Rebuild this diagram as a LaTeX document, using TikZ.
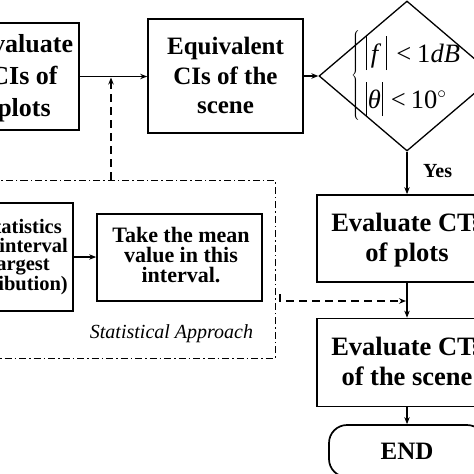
\documentclass[tikz,border=0pt]{standalone}
\usepackage{fontspec}
\setmainfont{Liberation Serif}
\usetikzlibrary{arrows.meta,shapes.geometric}
\newcommand{\vbarr}{\rule[-8pt]{0.9pt}{34pt}}
\begin{document}
\begin{tikzpicture}[x=1pt,y=-1pt,
  box/.style={draw,line width=1.7pt,inner sep=0pt},
  txt/.style={inner sep=0pt,align=center},
  arr/.style={-{Stealth[length=7pt,width=5.5pt]},line width=1.1pt},
  darr/.style={-{Stealth[length=7pt,width=5.5pt]},line width=1.1pt,dash pattern=on 8pt off 5pt},
  dashdotbox/.style={draw,line width=1pt,dash pattern=on 7pt off 3pt on 1.5pt off 3pt,inner sep=0pt}]
\useasboundingbox (0,0) rectangle (474,474);
\clip (0,0) rectangle (474,474);
\fill[white] (0,0) rectangle (474,474);
% main column
\node[box,minimum width=110pt,minimum height=107pt] (b1) at (24,76.5) {};
\node[txt,font=\bfseries\fontsize{26}{32}\selectfont] (t1) at (24,78.7) {Evaluate\\CIs of\\plots};
\node[box,minimum width=155pt,minimum height=114pt] (b2) at (225.5,76) {};
\node[txt,font=\bfseries\fontsize{25}{29.5}\selectfont] (t2) at (225.5,75.5) {Equivalent\\CIs of the\\scene};
\node[draw,shape=diamond,line width=1.3pt,minimum width=176pt,minimum height=150pt,inner sep=0pt] (dec) at (407,76) {};
\node[inner sep=0pt,anchor=west] (cond) at (351,75.8) {$\left\{\vcenter{\hbox{\fontsize{26.5}{46}\selectfont\begin{tabular}{@{}l@{}}\hspace{6pt}\vbarr\hspace{4pt}\textit{f}\hspace{5pt}\vbarr\hspace{9pt}<\hspace{6pt}1\textit{dB}\\
\hspace{6pt}\vbarr\hspace{1pt}\textit{θ}\hspace{1pt}\vbarr\hspace{8pt}<\hspace{5pt}10$^{\circ}$\end{tabular}}}\right.$};
\node[box,minimum width=180pt,minimum height=87pt] (b3) at (407,238.5) {};
\node[txt,font=\bfseries\fontsize{26.5}{30}\selectfont] (t3) at (407,240.6) {Evaluate CTs\\of plots};
\node[box,minimum width=180pt,minimum height=88pt] (b4) at (407,362.5) {};
\node[txt,font=\bfseries\fontsize{26.5}{30}\selectfont] (t4) at (407,361.2) {Evaluate CTs\\of the scene};
\node[box,font=\bfseries\fontsize{25}{29}\selectfont,minimum width=156pt,minimum height=52pt,rounded corners=18pt] (end) at (407,451) {END};
\node[anchor=base west,inner sep=0pt,font=\bfseries\fontsize{20}{24}\selectfont] (yes) at (423,177) {Yes};
% statistical approach
\node[dashdotbox,minimum width=285pt,minimum height=178pt] (stat) at (132.5,269) {};
\node[box,minimum width=133pt,minimum height=108pt] (bA) at (6.5,257) {};
\node[txt,anchor=east,align=right,font=\bfseries\fontsize{20.5}{18}\selectfont] (tA) at (68,256.8) {(Statistics\rule{6pt}{0pt}\\the interval\\of largest\rule{18pt}{0pt}\\distribution)};
\node[box,minimum width=165pt,minimum height=87pt] (bB) at (179.5,257.5) {};
\node[txt,font=\bfseries\fontsize{22}{20}\selectfont] (tB) at (181,255.3) {Take the mean\\value in this\\interval.};
\node[anchor=base,inner sep=0pt,font=\itshape\fontsize{20}{24}\selectfont] (lab) at (171.5,338) {Statistical Approach};
% connectors
\draw[arr] (b1.east) -- (b1.east -| b2.west);
\draw[arr] (b2.east) -- (dec.west);
\draw[arr] (dec.south) -- (b3.north);
\draw[arr] (b3.south) -- (b4.north);
\draw[arr] (b4.south) -- (end.north);
\draw[arr] (bA.east) -- (bA.east -| bB.west);
\coordinate (m) at (111,77.5);
\draw[darr] (stat.north -| m) -- (m);
\coordinate (s) at (280,294);
\coordinate (j) at (406,301);
\draw[darr] (s) |- (j);
\end{tikzpicture}
\end{document}
